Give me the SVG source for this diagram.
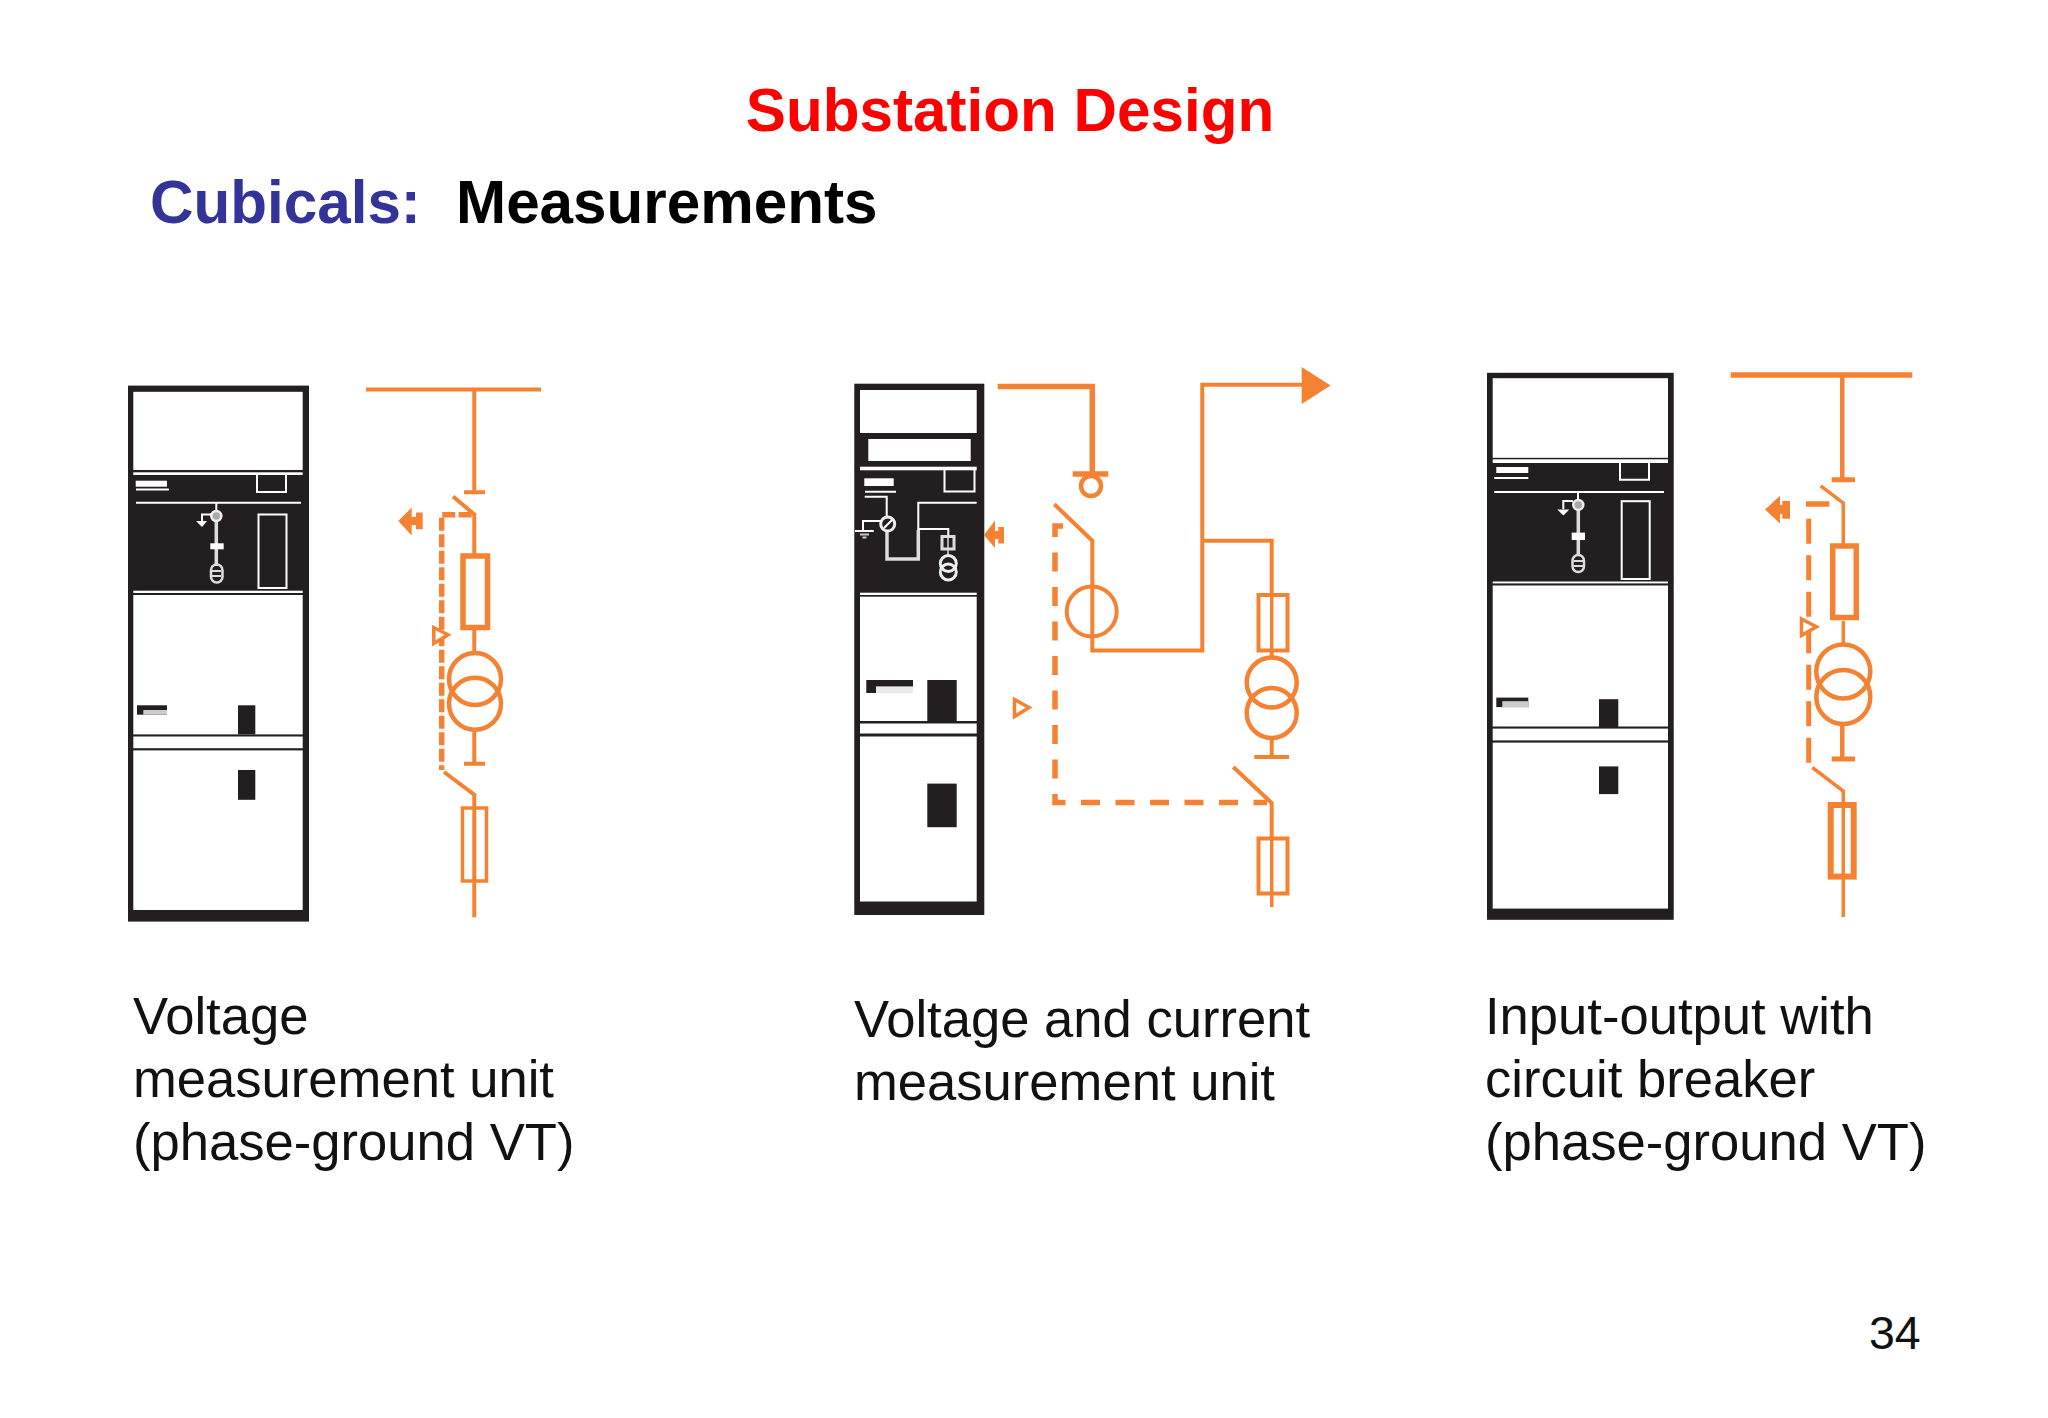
<svg xmlns="http://www.w3.org/2000/svg" width="2048" height="1418" viewBox="0 0 2048 1418">
<style>
.o{fill:none;stroke:#f58233;stroke-width:4}
.of{fill:#f58233}
.tri{fill:#fff;stroke:#f58233;stroke-width:3.5}
.k{fill:#231f20}
.w{fill:#fff}
.wl{fill:none;stroke:#fff;stroke-width:2}
.gl{fill:none;stroke:#ddd;stroke-width:3.5}
text{font-family:"Liberation Sans",Arial,sans-serif}
.h{font-size:60.2px;font-weight:700}
.l{font-size:52.6px;fill:#111}
</style>
<rect width="2048" height="1418" fill="#fff"/>
<text class="h" x="1010" y="131" text-anchor="middle" fill="#ff0000">Substation Design</text>
<text class="h" x="150" y="223" fill="#333399">Cubicals:</text>
<text class="h" x="456" y="223" fill="#000">Measurements</text>

<g id="cubicle-1">
<rect class="k" x="128" y="385.6" width="181" height="536"/>
<rect class="w" x="133.3" y="391.8" width="169.4" height="78.2"/>
<rect class="w" x="133.3" y="472.3" width="169.4" height="2.7"/>
<path class="wl" d="M257 475V492H286V475"/>
<rect class="w" x="135.7" y="480.7" width="31.3" height="6"/>
<path class="wl" d="M136 489.5H169M136 502.7H301"/>
<path class="wl" d="M216.3 502.7V511"/>
<path class="gl" d="M216.3 520V566"/>
<circle cx="216.3" cy="516" r="5" fill="#aaa" stroke="#eee" stroke-width="2.5"/>
<path class="wl" d="M212 514.5H202V522"/>
<path class="w" d="M196 521H207L202 527Z"/>
<rect class="w" x="210.3" y="543.3" width="13.4" height="6"/>
<rect x="211" y="564.5" width="11.5" height="18" rx="5.7" fill="none" stroke="#ddd" stroke-width="2.5"/>
<path d="M212 571H221M212 576H221" fill="none" stroke="#ddd" stroke-width="2"/>
<rect class="wl" x="258.5" y="514.5" width="28" height="73.5"/>
<rect class="w" x="133.3" y="590.7" width="169.4" height="2.3"/>
<rect class="w" x="133.3" y="595" width="169.4" height="139.4"/>
<rect class="w" x="133.3" y="736.5" width="169.4" height="11.7"/>
<rect class="w" x="133.3" y="750.4" width="169.4" height="159.6"/>
<rect class="k" x="137" y="705.3" width="30" height="9.4"/>
<rect x="143.3" y="710" width="23.7" height="4.7" fill="#ccc"/>
<rect class="k" x="238" y="705.3" width="17.3" height="29.1"/>
<rect class="k" x="238" y="770" width="17.3" height="29.8"/>
</g>

<g id="cubicle-2">
<rect class="k" x="854.3" y="383.7" width="130" height="531.3"/>
<rect class="w" x="860" y="390" width="116.7" height="43"/>
<rect class="w" x="868.3" y="439" width="102.4" height="22"/>
<rect class="w" x="860" y="466.7" width="116.7" height="3.6"/>
<path class="wl" d="M944.5 470V491.5H974.5V470"/>
<rect class="w" x="864.3" y="478.3" width="29.4" height="7.7"/>
<path class="wl" d="M865 491.7H896M864.7 496.7H886.7V517"/>
<circle cx="887.7" cy="524" r="7" fill="none" stroke="#eee" stroke-width="3"/>
<path class="wl" d="M884 528L892 520M881 521H863V531M855 531H873.7"/>
<path d="M860 534.5H869M862.5 537.5H866.5" fill="none" stroke="#ccc" stroke-width="2"/>
<path class="gl" d="M887 532V559H918.3V530"/>
<path class="wl" d="M918.3 530V502.7H976.7M918.3 529H948.3V537"/>
<rect x="942" y="536.5" width="12" height="12.5" fill="none" stroke="#ddd" stroke-width="3"/>
<path d="M948 537V556" fill="none" stroke="#ddd" stroke-width="1.5"/>
<circle cx="948.3" cy="563.5" r="8" fill="none" stroke="#eee" stroke-width="3"/>
<circle cx="948.3" cy="572" r="8" fill="none" stroke="#eee" stroke-width="3"/>
<rect class="w" x="860" y="592.7" width="116.7" height="2.3"/>
<rect class="w" x="860" y="596.7" width="116.7" height="124.3"/>
<rect class="w" x="860" y="723.5" width="116.7" height="10"/>
<rect class="w" x="860" y="736.5" width="116.7" height="165"/>
<rect class="k" x="866.3" y="680" width="46.7" height="13"/>
<rect x="876" y="686.4" width="37" height="6.6" fill="#eaeaea"/>
<rect class="k" x="927.3" y="680" width="29.4" height="41"/>
<rect class="k" x="927.3" y="783.6" width="29.4" height="43.6"/>
</g>

<g id="cubicle-3">
<rect class="k" x="1487" y="372.8" width="186.7" height="547"/>
<rect class="w" x="1492.7" y="378.2" width="175.3" height="79.6"/>
<rect class="w" x="1492.7" y="459.3" width="175.3" height="3.7"/>
<path class="wl" d="M1620 463V479.7H1649V463"/>
<rect class="w" x="1496.3" y="467" width="32" height="6"/>
<path class="wl" d="M1494.3 478H1528.3M1494.3 492H1664M1578 492V500"/>
<path class="gl" d="M1578.3 510V556"/>
<circle cx="1578.3" cy="504.9" r="5" fill="#aaa" stroke="#eee" stroke-width="2.5"/>
<path class="wl" d="M1573 501H1563.3V509"/>
<path class="w" d="M1557.3 509.6H1569.3L1563.3 515.5Z"/>
<rect class="w" x="1571.7" y="532.6" width="13.3" height="7.4"/>
<rect x="1572.5" y="555" width="11.5" height="17" rx="5.7" fill="none" stroke="#ddd" stroke-width="2.5"/>
<path d="M1573.5 561H1583M1573.5 566H1583" fill="none" stroke="#ddd" stroke-width="2"/>
<rect class="wl" x="1621.7" y="501.2" width="28" height="77.8"/>
<rect class="w" x="1492.7" y="581.5" width="175.3" height="1.9"/>
<rect class="w" x="1492.7" y="585.5" width="175.3" height="141"/>
<rect class="w" x="1492.7" y="728.6" width="175.3" height="11.8"/>
<rect class="w" x="1492.7" y="742.6" width="175.3" height="166"/>
<rect class="k" x="1496.3" y="697.6" width="32" height="9.5"/>
<rect x="1502.3" y="701.2" width="26" height="5.9" fill="#ccc"/>
<rect class="k" x="1599" y="699.2" width="19.3" height="28"/>
<rect class="k" x="1599" y="766.4" width="19.3" height="27.7"/>
</g>

<g id="connectors">
<!-- schematic 1 -->
<path class="o" d="M366 389.6H541M474.3 389.6V492.2M464 492.2H485"/>
<path class="o" d="M453 496.5L474.3 514.4V556M474.3 630V652"/>
<path class="o" d="M474.3 730V763.8M464 763.8H485"/>
<path class="o" d="M444 772L474.3 794.7V917.3"/>
<path class="o" style="stroke-width:5.5;stroke-dasharray:13 3.5" d="M471.7 514.7H441.7V770"/>
<!-- schematic 2 -->
<path class="o" style="stroke-width:5.5" d="M997.7 386.6H1092.3V473.9M1072.7 473.9H1108.3"/>
<path class="o" d="M1054.3 504.2L1092.3 540.7V650.5H1202.3V384.8H1302M1202.3 540.7H1271.7V594M1271.7 651V656"/>
<path class="o" d="M1271.7 738.5V757"/>
<path class="o" style="stroke-width:4" d="M1254.3 757H1289"/>
<path class="o" d="M1233.3 767L1271.7 803V838"/>
<path class="o" style="stroke-width:3.5" d="M1271.7 594V652M1271.7 838V907"/>
<path class="o" style="stroke-width:5.5;stroke-dasharray:19 15.5" d="M1063 526H1055V802.5H1267"/>
<!-- schematic 3 -->
<path class="o" style="stroke-width:5.5" d="M1730.7 375H1912.3"/>
<path class="o" style="stroke-width:4.5" d="M1842.3 375V479.7M1842.3 723.5V759"/>
<path class="o" style="stroke-width:5" d="M1831.7 479.7H1855M1831.7 759H1855"/>
<path class="o" style="stroke-width:3.5" d="M1820.7 485.9L1843.3 503V545M1843.3 621V644M1812.3 767.5L1843.3 791V917"/>
<path class="o" style="stroke-width:5.5" d="M1806 504H1829.3"/>
<path class="o" style="stroke-width:5;stroke-dasharray:25 11.5" d="M1808.7 518.8V763"/>
</g>

<g id="schematic-1">
<rect class="o" style="stroke-width:5.5" x="463" y="556" width="24.5" height="71.5"/>
<circle class="o" style="stroke-width:4.5" cx="475" cy="679" r="26"/>
<circle class="o" style="stroke-width:4.5" cx="475" cy="703.7" r="26"/>
<rect class="o" style="stroke-width:3.5" x="462.5" y="808" width="24" height="73"/>
<path class="of" d="M398.3 521L411.7 507.5V517H416V512.5H422.7V529.3H416V525H411.7V535.5Z"/>
<path class="tri" d="M433.8 627.5L448 634.8L433.8 643.5Z"/>
</g>

<g id="schematic-2">
<circle class="o" style="stroke-width:4.5" cx="1091" cy="486" r="10"/>
<circle class="o" cx="1091.7" cy="611.5" r="25"/>
<rect class="o" x="1258.5" y="595" width="29" height="55.5"/>
<circle class="o" style="stroke-width:4.5" cx="1271.7" cy="682.5" r="25"/>
<circle class="o" style="stroke-width:4.5" cx="1271.7" cy="713" r="25"/>
<rect class="o" x="1258.5" y="838.5" width="29" height="55"/>
<path class="of" d="M1301.7 367L1330.5 385.5L1301.7 404Z"/>
<path class="of" d="M984 535L995 520.6V531H998.3V527H1004V543.6H998.3V539H995V548Z"/>
<path class="tri" d="M1014.5 699.5L1029 707.5L1014.5 716.5Z"/>
</g>

<g id="schematic-3">
<rect class="o" style="stroke-width:5.5" x="1832.7" y="546" width="23.6" height="71.5"/>
<circle class="o" style="stroke-width:4.5" cx="1843.3" cy="671.5" r="27"/>
<circle class="o" style="stroke-width:4.5" cx="1843.3" cy="697" r="27"/>
<rect class="o" style="stroke-width:6" x="1830.7" y="805" width="23" height="71.6"/>
<path class="of" d="M1765 509.6L1780 495.8V505H1782.3V500.9H1790V518.8H1782.3V514H1780V523.5Z"/>
<path class="tri" d="M1801.5 619L1816.5 626.8L1801.5 635.5Z"/>
</g>

<g id="label-1">
<text class="l" x="133" y="1034">Voltage</text>
<text class="l" x="133" y="1097">measurement unit</text>
<text class="l" x="133" y="1160">(phase-ground VT)</text>
</g>
<g id="label-2">
<text class="l" x="854" y="1037">Voltage and current</text>
<text class="l" x="854" y="1100">measurement unit</text>
</g>
<g id="label-3">
<text class="l" x="1485" y="1034">Input-output with</text>
<text class="l" x="1485" y="1097">circuit breaker</text>
<text class="l" x="1485" y="1160">(phase-ground VT)</text>
</g>
<text x="1869" y="1349" font-size="46.5" fill="#111" style="font-size:46.5px">34</text>
</svg>
